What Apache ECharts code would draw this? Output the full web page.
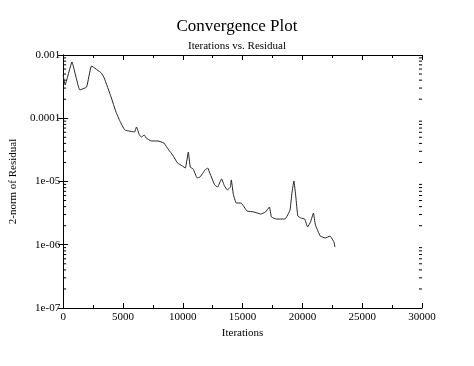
<!DOCTYPE html>
<html>
<head>
<meta charset="utf-8">
<script src="https://cdn.jsdelivr.net/npm/echarts@6/dist/echarts.min.js"></script>
<style>
html,body{margin:0;padding:0;background:#fff;}
#chart{width:474px;height:366px;}
</style>
</head>
<body>
<div id="chart"></div>
<script>
// Data
var iterations = [0,163,736,1390,1962,2370,3188,3433,4005,4414,4741,5150,5477,5967,6131,6376,6539,6784,6948,7357,7929,8419,8828,9155,9564,9972,10218,10463,10626,10871,11198,11444,11689,11852,12098,12261,12670,12915,13242,13487,13732,13977,14059,14223,14468,14877,15367,15939,16511,16920,17247,17411,17819,18555,18964,19127,19291,19454,19618,19863,20190,20435,20680,20925,21089,21498,21906,22315,22642,22724];
var residuals = [4.83e-4,3.36e-4,7.75e-4,2.80e-4,3.12e-4,6.70e-4,5.19e-4,4.33e-4,2.17e-4,1.26e-4,9.06e-5,6.52e-5,6.29e-5,6.06e-5,7.28e-5,5.43e-5,5.05e-5,5.43e-5,4.87e-5,4.37e-5,4.37e-5,4.06e-5,3.15e-5,2.62e-5,1.96e-5,1.76e-5,1.63e-5,2.92e-5,1.69e-5,1.58e-5,1.14e-5,1.18e-5,1.36e-5,1.52e-5,1.63e-5,1.36e-5,8.81e-6,8.19e-6,1.10e-5,8.49e-6,7.34e-6,8.19e-6,1.06e-5,6.34e-6,4.57e-6,4.57e-6,3.42e-6,3.30e-6,3.06e-6,3.30e-6,3.95e-6,2.75e-6,2.55e-6,2.55e-6,3.54e-6,6.58e-6,1.02e-5,5.69e-6,2.85e-6,2.65e-6,2.55e-6,1.91e-6,2.29e-6,3.18e-6,2.05e-6,1.37e-6,1.28e-6,1.37e-6,1.10e-6,9.2e-7];
var yTickLabels = {"-3":"0.001","-4":"0.0001","-5":"1e-05","-6":"1e-06","-7":"1e-07"};
var minorMultipliers = [2,3,4,5,6,7,8,9];
var minorDecades = [1e-7,1e-6,1e-5,1e-4];
var xMin = 0, xMax = 30000, xStep = 5000;
var yMin = 1e-7, yMax = 1e-3;

var seriesData = iterations.map(function(x,i){return [x, residuals[i]];});
var minorData = [];
minorDecades.forEach(function(d){ minorMultipliers.forEach(function(m){ minorData.push([xMin, m*d]); }); });

var serif = '"Liberation Serif","DejaVu Serif",serif';
var chart = echarts.init(document.getElementById('chart'));
var axisLine = {show:true, lineStyle:{color:'#000', width:1}};
chart.setOption({
  animation:false,
  title:{
    text:'Convergence Plot', subtext:'Iterations vs. Residual',
    left:'center', top:13, itemGap:6,
    textStyle:{fontFamily:serif, fontSize:17, fontWeight:'normal', color:'#000'},
    subtextStyle:{fontFamily:serif, fontSize:11, color:'#000'}
  },
  grid:{left:55, right:52, top:55, bottom:58, containLabel:false},
  xAxis:[{
    type:'value', min:xMin, max:xMax, interval:xStep, position:'bottom',
    name:'Iterations', nameLocation:'middle', nameGap:17,
    nameTextStyle:{fontFamily:serif, fontSize:11, color:'#000'},
    axisLine:axisLine,
    axisTick:{show:true, inside:true, length:5, lineStyle:{color:'#000'}},
    minorTick:{show:true, splitNumber:2, length:3, lineStyle:{color:'#000'}},
    axisLabel:{fontFamily:serif, fontSize:11, color:'#000', margin:4,
      formatter:function(v){ return String(v); }},
    splitLine:{show:false}
  },{
    type:'value', min:xMin, max:xMax, interval:xStep, position:'top',
    axisLine:axisLine,
    axisTick:{show:true, inside:true, length:5, lineStyle:{color:'#000'}},
    minorTick:{show:true, splitNumber:2, length:3, lineStyle:{color:'#000'}},
    axisLabel:{show:false}, splitLine:{show:false}
  }],
  yAxis:[{
    type:'log', logBase:10, min:yMin, max:yMax, position:'left',
    name:'2-norm of Residual', nameLocation:'middle', nameGap:34,
    nameTextStyle:{fontFamily:serif, fontSize:11, color:'#000'},
    axisLine:axisLine,
    axisTick:{show:true, inside:true, length:5, lineStyle:{color:'#000'}},
    axisLabel:{fontFamily:serif, fontSize:11, color:'#000', margin:3,
      formatter:function(v){ var e=Math.round(Math.log10(v)); return yTickLabels[String(e)] || ''; }},
    splitLine:{show:false}
  },{
    type:'log', logBase:10, min:yMin, max:yMax, position:'right',
    axisLine:axisLine,
    axisTick:{show:true, inside:true, length:5, lineStyle:{color:'#000'}},
    axisLabel:{show:false}, splitLine:{show:false}
  }],
  series:[{
    type:'line', data:seriesData, xAxisIndex:0, yAxisIndex:0,
    showSymbol:false, symbol:'none', smooth:0.1,
    lineStyle:{color:'#222', width:1}
  },{
    type:'custom', xAxisIndex:0, yAxisIndex:0, silent:true, clip:false,
    data:minorData,
    renderItem:function(params, api){
      var v = api.value(1);
      var pl = api.coord([xMin, v]);
      var pr = api.coord([xMax, v]);
      return {type:'group', children:[
        {type:'line', shape:{x1:pl[0], y1:pl[1], x2:pl[0]+3, y2:pl[1]}, style:{stroke:'#000', lineWidth:1}},
        {type:'line', shape:{x1:pr[0], y1:pr[1], x2:pr[0]-3, y2:pr[1]}, style:{stroke:'#000', lineWidth:1}}
      ]};
    }
  }]
});
</script>
</body>
</html>
